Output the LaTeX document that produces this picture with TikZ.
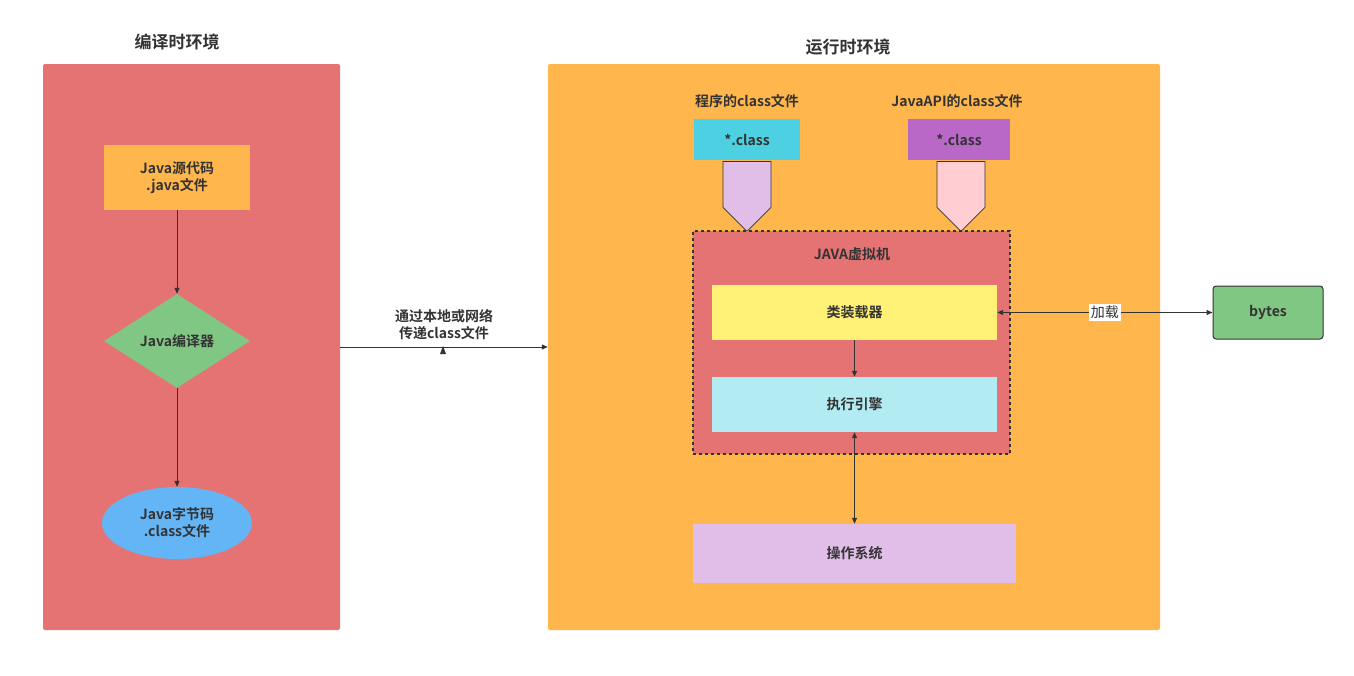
\documentclass[tikz,border=0pt]{standalone}
\usepackage{fontspec}
\setmainfont{Noto Sans CJK SC}[BoldFont={Noto Sans CJK SC Bold}]
\usetikzlibrary{shapes.geometric,shapes.arrows,arrows.meta}
\definecolor{cred}{HTML}{E57373}
\definecolor{corange}{HTML}{FFB74D}
\definecolor{cgreen}{HTML}{81C784}
\definecolor{cblue}{HTML}{64B5F6}
\definecolor{ccyan}{HTML}{4DD0E1}
\definecolor{cpurple}{HTML}{BA68C8}
\definecolor{clpurple}{HTML}{E1BEE7}
\definecolor{cpink}{HTML}{FFCDD2}
\definecolor{cyellow}{HTML}{FFF176}
\definecolor{clcyan}{HTML}{B2EBF2}
\definecolor{ctext}{HTML}{333333}
\begin{document}
\begin{tikzpicture}[x=1pt,y=-1pt,
  txt/.style={font=\bfseries\fontsize{14}{17}\selectfont,text=ctext,align=center},
  ttl/.style={font=\bfseries\fontsize{17}{20}\selectfont,text=ctext},
  box/.style={txt,draw=none,inner sep=0pt},
  arr/.style={-{Triangle[length=6pt,width=5pt]},draw=ctext,line width=1pt},
  darr/.style={{Triangle[length=6pt,width=5pt]}-{Triangle[length=6pt,width=5pt]},draw=ctext,line width=1pt},
  blk/.style={single arrow,draw=ctext,line width=0.8pt,minimum width=48pt,single arrow head extend=0pt,single arrow tip angle=90,minimum height=70pt,inner sep=0pt,shape border rotate=270}]
\useasboundingbox (0,0) rectangle (1354,675);
% compile-time
\node[ttl] (t1) at (177,42) {编译时环境};
\node[box,fill=cred,rounded corners=2pt,minimum width=297pt,minimum height=566pt] (env1) at (191.5,347) {};
\node[box,fill=corange,minimum width=146pt,minimum height=65pt] (src) at (177,177.5) {Java源代码\\.java文件};
\node[box,fill=cgreen,diamond,minimum width=146pt,minimum height=94pt,aspect=1.55] (cmp) at (177,341) {Java编译器};
\node[box,fill=cblue,ellipse,minimum width=150pt,minimum height=72pt] (bc) at (177,523) {Java字节码\\.class文件};
\draw[arr] (src) -- (cmp);
\draw[arr] (cmp) -- (bc);
% runtime
\node[ttl] (t2) at (848,47) {运行时环境};
\node[box,fill=corange,rounded corners=2pt,minimum width=612pt,minimum height=566pt] (env2) at (854,347) {};
\draw[arr] (env1.east) -- (env2.west) coordinate[pos=0.5] (mid);
\node[txt,above=4pt] (lbl) at (mid) {通过本地或网络\\传递class文件};
\fill[ctext] (440,354) -- (446,354) -- (443,346) -- cycle;
\node[txt] (l1) at (747,101) {程序的class文件};
\node[txt] (l2) at (957,101) {JavaAPI的class文件};
\node[box,fill=ccyan,minimum width=106pt,minimum height=41pt] (c1) at (747,139.5) {*.class};
\node[box,fill=cpurple,minimum width=102pt,minimum height=41pt] (c2) at (959,139.5) {*.class};
\node[blk,fill=clpurple,anchor=north] (b1) at (747,161) {};
\node[blk,fill=cpink,anchor=north] (b2) at (961,161) {};
\node[box,fill=cred,draw=ctext,dashed,line width=1.2pt,minimum width=317pt,minimum height=223pt] (jvm) at (851.5,342.5) {};
\node[txt] (jl) at (852,254) {JAVA虚拟机};
\node[box,fill=cyellow,minimum width=285pt,minimum height=55pt] (cl) at (854.5,312.5) {类装载器};
\node[box,fill=clcyan,minimum width=285pt,minimum height=55pt] (ex) at (854.5,404.5) {执行引擎};
\node[box,fill=clpurple,minimum width=323pt,minimum height=59pt] (os) at (854.5,553.5) {操作系统};
\node[box,fill=cgreen,draw=ctext,line width=1pt,rounded corners=3pt,minimum width=110pt,minimum height=53pt] (by) at (1268,312.5) {bytes};
\draw[arr] (cl) -- (ex);
\draw[darr] (ex) -- (os);
\draw[darr] (cl) -- (by) node[midway,txt,font=\fontsize{14}{17}\selectfont,fill=white,inner sep=2pt] {加载};
\end{tikzpicture}
\end{document}
